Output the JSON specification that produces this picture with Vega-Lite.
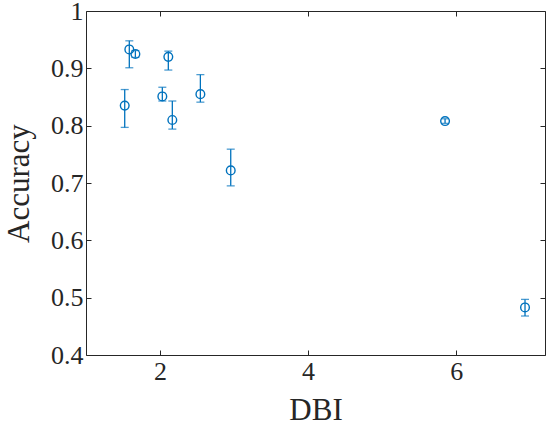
{
  "$schema": "https://vega.github.io/schema/vega-lite/v6.json",
  "width": 459,
  "height": 344,
  "autosize": {"type": "none"},
  "padding": {"left": 86, "top": 11, "right": 5, "bottom": 72},
  "background": "white",
  "config": {
    "view": {"stroke": "#262626", "strokeWidth": 1},
    "font": "Liberation Serif",
    "axis": {
      "grid": false,
      "domain": false,
      "tickColor": "#262626",
      "tickSize": -5,
      "labelFont": "Liberation Serif",
      "labelFontSize": 26,
      "labelColor": "#262626",
      "titleFont": "Liberation Serif",
      "titleFontSize": 31,
      "titleFontWeight": "normal",
      "titleColor": "#262626"
    }
  },
  "data": {
    "values": [
      {"dbi": 1.585, "acc": 0.933, "lo": 0.901, "hi": 0.948},
      {"dbi": 1.667, "acc": 0.925, "lo": 0.919, "hi": 0.931},
      {"dbi": 2.112, "acc": 0.920, "lo": 0.897, "hi": 0.930},
      {"dbi": 1.523, "acc": 0.835, "lo": 0.797, "hi": 0.863},
      {"dbi": 2.031, "acc": 0.851, "lo": 0.843, "hi": 0.867},
      {"dbi": 2.166, "acc": 0.810, "lo": 0.794, "hi": 0.843},
      {"dbi": 2.545, "acc": 0.855, "lo": 0.841, "hi": 0.889},
      {"dbi": 2.955, "acc": 0.722, "lo": 0.695, "hi": 0.759},
      {"dbi": 5.850, "acc": 0.808, "lo": 0.804, "hi": 0.812},
      {"dbi": 6.930, "acc": 0.483, "lo": 0.468, "hi": 0.497}
    ]
  },
  "resolve": {"axis": {"x": "independent", "y": "independent"}},
  "layer": [
    {
      "mark": {"type": "rule", "color": "#0072BD", "strokeWidth": 1.3},
      "encoding": {
        "x": {"field": "dbi", "type": "quantitative", "scale": {"domain": [1, 7.2], "nice": false},
          "axis": {"orient": "bottom", "values": [2, 4, 6], "title": "DBI", "labelPadding": 8, "titlePadding": 11}},
        "y": {"field": "lo", "type": "quantitative", "scale": {"domain": [0.4, 1], "nice": false, "zero": false},
          "axis": {"orient": "left", "values": [0.4, 0.5, 0.6, 0.7, 0.8, 0.9, 1], "labelExpr": "datum.value == 1 ? '1' : format(datum.value, '.1f')", "title": "Accuracy", "labelPadding": 8, "titlePadding": 15}},
        "y2": {"field": "hi"}
      }
    },
    {
      "mark": {"type": "tick", "orient": "horizontal", "color": "#0072BD", "size": 8, "thickness": 1.3},
      "encoding": {
        "x": {"field": "dbi", "type": "quantitative",
          "axis": {"orient": "top", "values": [2, 4, 6], "labels": false, "title": null}},
        "y": {"field": "lo", "type": "quantitative",
          "axis": {"orient": "right", "values": [0.4, 0.5, 0.6, 0.7, 0.8, 0.9, 1], "labels": false, "title": null}}
      }
    },
    {
      "mark": {"type": "tick", "orient": "horizontal", "color": "#0072BD", "size": 8, "thickness": 1.3},
      "encoding": {
        "x": {"field": "dbi", "type": "quantitative", "axis": null},
        "y": {"field": "hi", "type": "quantitative", "axis": null}
      }
    },
    {
      "mark": {"type": "point", "shape": "circle", "filled": false, "color": "#0072BD", "size": 75, "strokeWidth": 1.4, "opacity": 1},
      "encoding": {
        "x": {"field": "dbi", "type": "quantitative", "axis": null},
        "y": {"field": "acc", "type": "quantitative", "axis": null}
      }
    }
  ]
}
